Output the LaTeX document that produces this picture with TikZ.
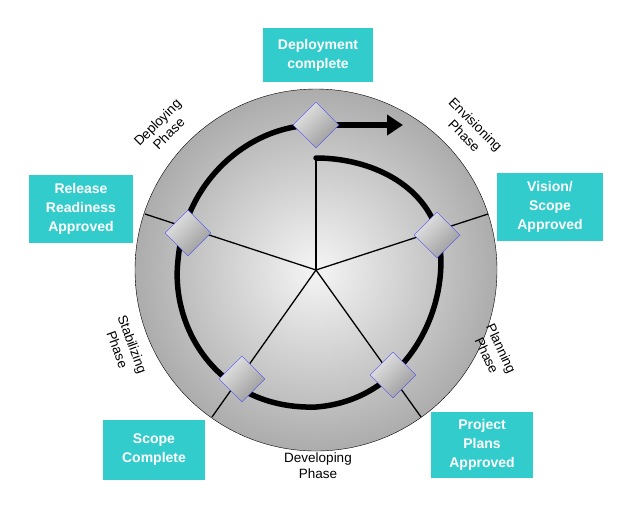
\documentclass[tikz,border=0pt]{standalone}
\usepackage{fontspec}
\setmainfont{Liberation Sans}
\usetikzlibrary{shapes.geometric,arrows.meta}
\definecolor{teal1}{RGB}{51,204,204}
\begin{document}
\begin{tikzpicture}[x=1pt,y=-1pt,
  msbox/.style={fill=teal1,text=white,font=\bfseries\fontsize{14}{19}\selectfont,align=center,inner sep=4pt},
  ph/.style={font=\fontsize{13.5}{16}\selectfont,align=center},
  dia/.style={diamond,draw=blue!70,thin,minimum width=46pt,minimum height=46pt,inner sep=0pt,shading=axis,top color=gray!20,bottom color=gray!80,shading angle=45}]
\useasboundingbox (0,0) rectangle (636,507);
\coordinate (c) at (316,270);
\shade[inner color=gray!8,outer color=gray!65] (c) circle (181);
\draw[thin] (c) circle (181);
\coordinate (pL) at (145,214);
\coordinate (pR) at (488,214);
\coordinate (pLL) at (212,417);
\coordinate (pLR) at (421,417);
\coordinate (s) at (316,158);
\draw[line width=1.3pt] (c) -- (pL); \draw[line width=1.3pt] (c) -- (pR); \draw[line width=1.3pt] (c) -- (pLL); \draw[line width=1.3pt] (c) -- (pLR); \draw[line width=1.3pt] (c) -- (s);
\draw[line width=5.5pt,line cap=round] (s) .. controls (365,158) and (420,180) .. (437,230);
\draw[line width=5.5pt] (437,230) .. controls (455,300) and (410,400) .. (316,407)
  .. controls (220,410) and (170,330) .. (178,260)
  .. controls (185,180) and (250,125) .. (316,125);
\draw[line width=5.5pt,-{Triangle[length=16pt,width=20pt]}] (314,125) -- (403,125);
\node[dia] (d1) at (316,125) {};
\node[dia] (d2) at (437,235) {};
\node[dia] (d3) at (393,375) {};
\node[dia] (d4) at (242,379) {};
\node[dia] (d5) at (188,233) {};
\node[msbox,minimum width=110pt,minimum height=54pt] (b1) at (318,55) {Deployment\\complete};
\node[msbox,minimum width=106pt,minimum height=68pt] (b2) at (550,207) {Vision/\\Scope\\Approved};
\node[msbox,minimum width=102pt,minimum height=66pt] (b3) at (482,445) {Project\\Plans\\Approved};
\node[msbox,minimum width=102pt,minimum height=60pt] (b4) at (154,450) {Scope\\Complete};
\node[msbox,minimum width=104pt,minimum height=68pt] (b5) at (81,209) {Release\\Readiness\\Approved};
\node[ph,rotate=45] (t1) at (163,128) {Deploying\\Phase};
\node[ph,rotate=-45] (t2) at (470,130) {Envisioning\\Phase};
\node[ph,rotate=-65] (t3) at (494,352) {Planning\\Phase};
\node[ph,rotate=-70] (t4) at (125,347) {Stabilizing\\Phase};
\node[ph] (t5) at (318,466) {Developing\\Phase};
\end{tikzpicture}
\end{document}
